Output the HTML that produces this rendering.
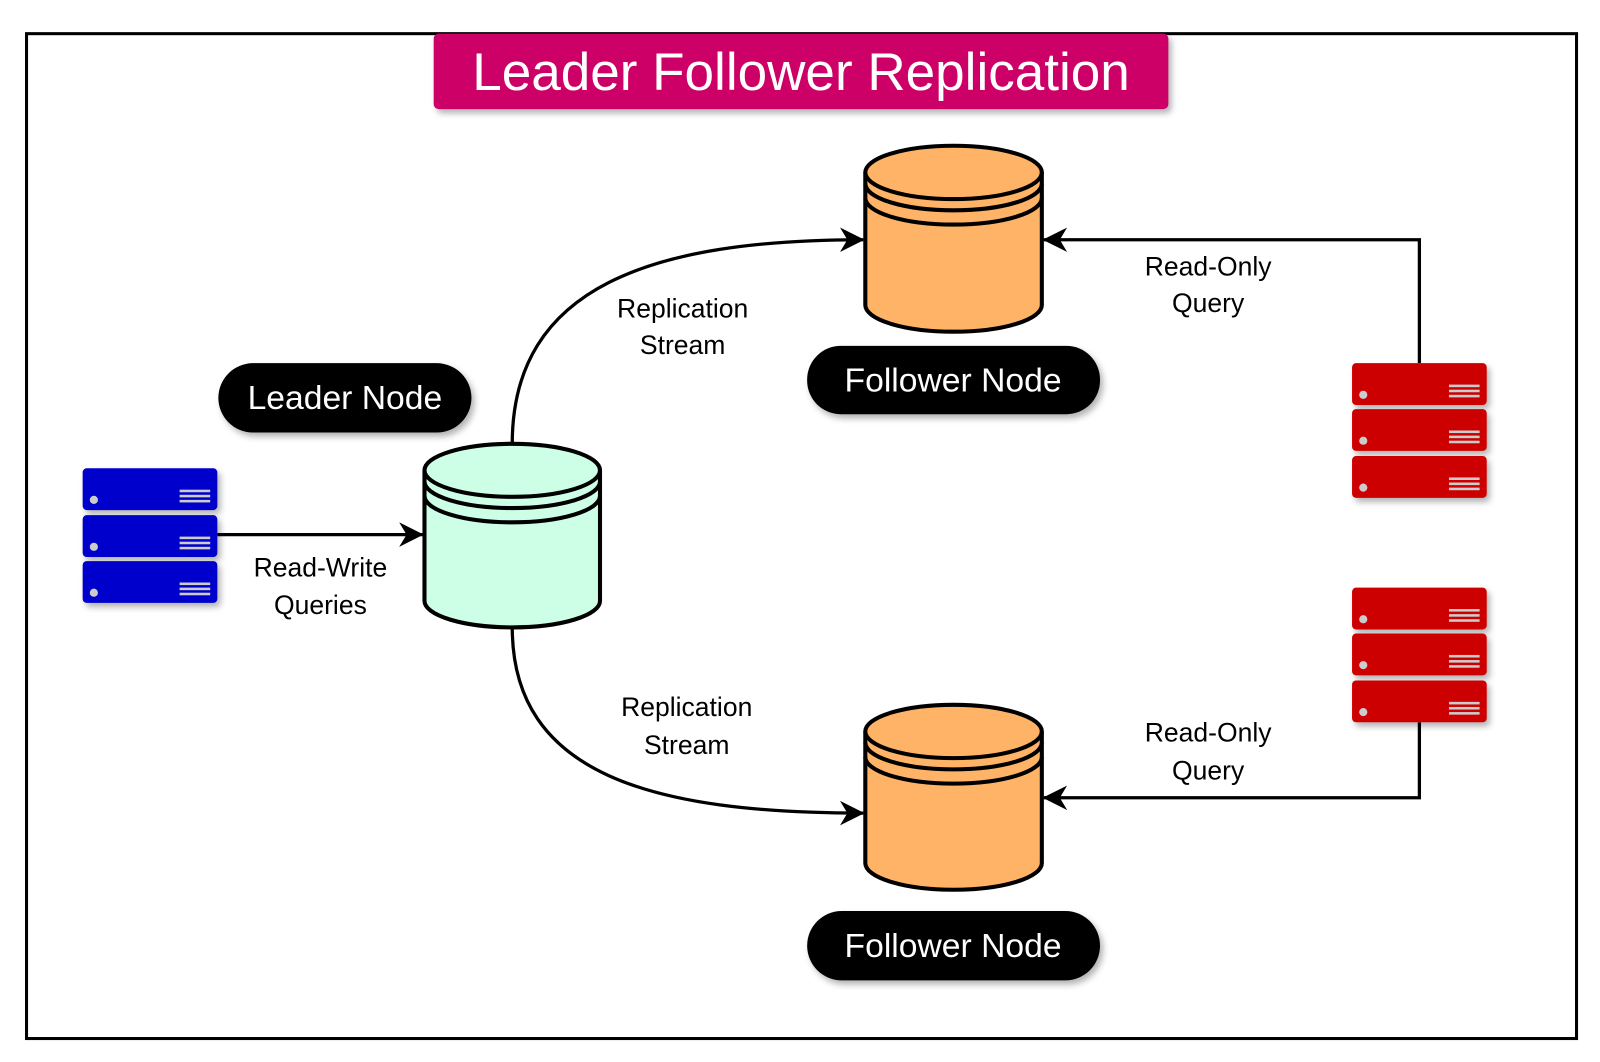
<!DOCTYPE html>
<html><head><style>html,body{margin:0;padding:0;background:#fff}svg{display:block}</style></head>
<body>
<svg width="1600" height="1062" viewBox="0 0 1568 1041" preserveAspectRatio="none" xmlns="http://www.w3.org/2000/svg" font-family="Liberation Sans, sans-serif">
<defs>
<filter id="sh" x="-10%" y="-10%" width="130%" height="140%"><feDropShadow dx="3" dy="4" stdDeviation="3" flood-color="#000" flood-opacity="0.3"/></filter>
<marker id="ar" viewBox="0 0 20 20" refX="19" refY="10" markerWidth="24" markerHeight="24" markerUnits="userSpaceOnUse" orient="auto"><path d="M0,0 L20,10 L0,20 L6,10 Z" fill="#000"/></marker>
<g id="srv">
<rect x="0" y="0" width="132" height="41" rx="4"/>
<circle cx="11" cy="31" r="4" fill="#ccc"/>
<rect x="95" y="21" width="30" height="2.5" fill="#ccc"/><rect x="95" y="26" width="30" height="2.5" fill="#ccc"/><rect x="95" y="31" width="30" height="2.5" fill="#ccc"/>
</g>
</defs>
<rect x="26" y="33" width="1519" height="985" fill="none" stroke="#000" stroke-width="3"/>
<rect x="425" y="33" width="720" height="74" rx="5" fill="#CC0066" filter="url(#sh)"/>
<text x="785" y="88" font-size="52" fill="#fff" text-anchor="middle">Leader Follower Replication</text>

<g fill="none" stroke="#000" stroke-width="3.2">
<path d="M213,524 H414" marker-end="url(#ar)"/>
<path d="M502,435 C502,280 640,235 846,235" marker-end="url(#ar)"/>
<path d="M502,615 C502,760 640,797 846,797" marker-end="url(#ar)"/>
<path d="M1391,356 V235 H1023" marker-end="url(#ar)"/>
<path d="M1391,708 V782 H1023" marker-end="url(#ar)"/>
</g>

<g stroke="#000" stroke-width="4">
<path d="M416,461 V589 A86,26 0 0 0 588,589 V461 A86,26 0 0 0 416,461 Z" fill="#CCFFE6"/>
<path d="M416,461 A86,26 0 0 0 588,461 M416,472 A86,26 0 0 0 588,472 M416,486 A86,26 0 0 0 588,486" fill="none"/>
<path d="M848,169 V299 A86,26 0 0 0 1021,299 V169 A86,26 0 0 0 848,169 Z" fill="#FFB366"/>
<path d="M848,169 A86,26 0 0 0 1021,169 M848,180 A86,26 0 0 0 1021,180 M848,194 A86,26 0 0 0 1021,194" fill="none"/>
<path d="M848,717 V846 A86,26 0 0 0 1021,846 V717 A86,26 0 0 0 848,717 Z" fill="#FFB366"/>
<path d="M848,717 A86,26 0 0 0 1021,717 M848,728 A86,26 0 0 0 1021,728 M848,742 A86,26 0 0 0 1021,742" fill="none"/>
</g>

<g fill="#0000CC" filter="url(#sh)">
<use href="#srv" x="81" y="459"/><use href="#srv" x="81" y="505"/><use href="#srv" x="81" y="550"/>
</g>
<g fill="#CC0000" filter="url(#sh)">
<use href="#srv" x="1325" y="356"/><use href="#srv" x="1325" y="401"/><use href="#srv" x="1325" y="447"/>
<use href="#srv" x="1325" y="576"/><use href="#srv" x="1325" y="621"/><use href="#srv" x="1325" y="667"/>
</g>

<g filter="url(#sh)" fill="#000">
<rect x="214" y="356" width="248" height="68" rx="34"/>
<rect x="791" y="339" width="287" height="67" rx="33"/>
<rect x="791" y="893" width="287" height="68" rx="34"/>
</g>
<g fill="#fff" font-size="33" text-anchor="middle">
<text x="338" y="401">Leader Node</text>
<text x="934" y="384">Follower Node</text>
<text x="934" y="938">Follower Node</text>
</g>
<g fill="#000" font-size="26" text-anchor="middle">
<text x="669" y="311">Replication</text><text x="669" y="347">Stream</text>
<text x="673" y="702">Replication</text><text x="673" y="739">Stream</text>
<text x="1184" y="270">Read-Only</text><text x="1184" y="306">Query</text>
<text x="1184" y="727">Read-Only</text><text x="1184" y="764">Query</text>
<text x="314" y="565">Read-Write</text><text x="314" y="602">Queries</text>
</g>
</svg>
</body></html>
